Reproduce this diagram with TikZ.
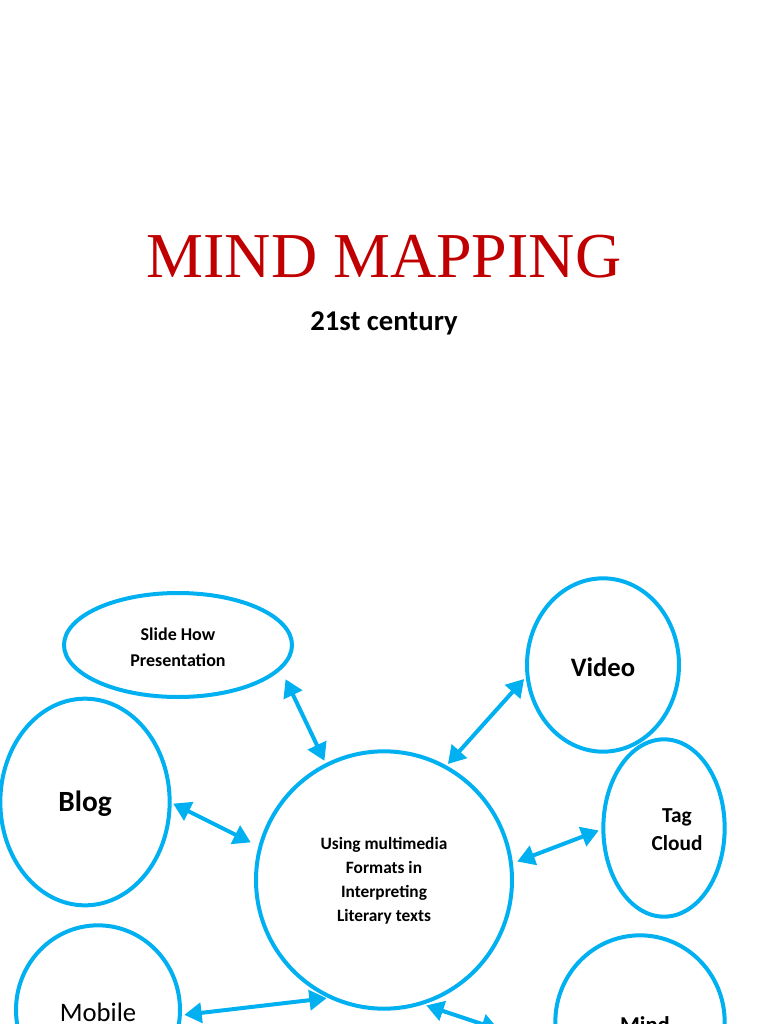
\documentclass[tikz,border=0pt]{standalone}
\usepackage{fontspec}
\setmainfont{Carlito}
\newfontfamily\titlefont{Liberation Serif}
\usetikzlibrary{shapes.geometric,arrows.meta}
\definecolor{cy}{HTML}{00B0F0}
\definecolor{dred}{HTML}{C00000}
\begin{document}
\begin{tikzpicture}[x=0.75pt,y=-0.75pt,
  bub/.style={ellipse,draw=cy,line width=3pt,inner sep=0pt},
  lbl/.style={align=center,inner sep=0pt},
  conn/.style={draw=cy,line width=3pt,{Triangle[length=13pt,width=15pt]}-{Triangle[length=13pt,width=15pt]},shorten <=1pt,shorten >=1pt}]
\useasboundingbox (0,0) rectangle (768,1024);
\clip (0,0) rectangle (768,1024);
\node (title) at (384,257) {\titlefont\color{dred}\fontsize{48}{56}\selectfont MIND MAPPING};
\node (sub) at (384,323) {\bfseries\fontsize{21.5}{24}\selectfont 21st century};
\node[bub,minimum width=171pt,minimum height=78pt] (slide) at (178,645) {};
\node[lbl,font=\fontsize{13.5}{19.5}\selectfont\bfseries] at (178,647) {Slide How\\Presentation};
\node[bub,minimum width=114pt,minimum height=130pt] (video) at (603,665) {};
\node[lbl,font=\fontsize{20}{22}\selectfont\bfseries] at (603,667) {Video};
\node[bub,minimum width=127pt,minimum height=155pt] (blog) at (85,802) {};
\node[lbl,font=\fontsize{22}{24}\selectfont\bfseries] at (85,804) {Blog};
\node[bub,minimum width=192pt,minimum height=193pt] (center) at (384,880) {};
\node[lbl,font=\fontsize{13}{18}\selectfont\bfseries] at (384,881) {Using multimedia\\Formats in\\Interpreting\\Literary texts};
\node[bub,minimum width=91pt,minimum height=133pt] (tag) at (664,828) {};
\node[lbl,font=\fontsize{16}{21}\selectfont\bfseries] at (677,830) {Tag\\Cloud};
\node[bub,minimum width=123pt,minimum height=127pt] (mobile) at (98,1010) {};
\node[lbl,font=\fontsize{20}{24}\selectfont] at (98,1012) {Mobile};
\node[bub,minimum width=127pt,minimum height=130pt] (mind) at (640,1022) {};
\node[lbl,font=\fontsize{17}{20}\selectfont\bfseries] at (645,1025) {Mind};
\coordinate (off) at (500,1030);
\draw[conn] (285,678) -- (325,762);
\draw[conn] (525,678) -- (447,765);
\draw[conn] (172,803) -- (252,843);
\draw[conn] (600,830) -- (516,862);
\draw[conn] (183,1015) -- (328,998);
\draw[conn] (425,1005) -- (off);
\end{tikzpicture}
\end{document}
